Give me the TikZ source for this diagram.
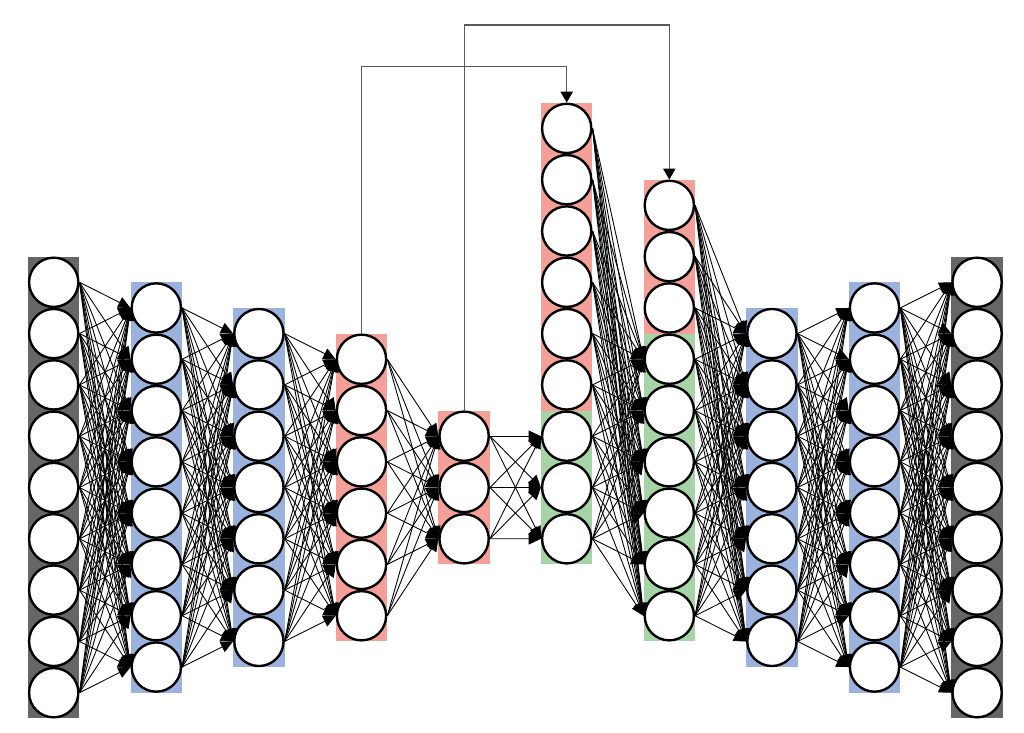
\documentclass[tikz,border=0pt]{standalone}
\usetikzlibrary{arrows.meta}
\definecolor{cgray}{RGB}{102,102,102}
\definecolor{cblue}{RGB}{155,178,222}
\definecolor{cred}{RGB}{244,160,152}
\definecolor{cgreen}{RGB}{166,212,166}
\begin{document}
\begin{tikzpicture}[x=0.02cm,y=-0.02cm,
  neuron/.style={circle,draw=black,fill=white,line width=1.35pt,minimum size=0.985cm,inner sep=0pt},
  conn/.style={draw=black,line width=0.5pt,-{Triangle[length=7pt,width=6.5pt]}},
  skipline/.style={draw=black!65,line width=0.6pt,-{Triangle[length=6.2pt,width=7pt,black]}},
  band/.style={draw=none}
]
\useasboundingbox (0,0) rectangle (1024,733);
% colored bands
\foreach \l/\a/\b/\c in {1/256.65/718.35/cgray, 2/282.3/692.7/cblue, 3/307.95/667.05/cblue,
  4/333.6/641.4/cred, 5/410.55/564.45/cred, 6/102.75/410.55/cred, 6/410.55/564.45/cgreen,
  7/179.7/333.6/cred, 7/333.6/641.4/cgreen, 8/307.95/667.05/cblue, 9/282.3/692.7/cblue,
  10/256.65/718.35/cgray}{
  \fill[band,\c] ({53.7+102.6*(\l-1)-25.65},\a) rectangle ({53.7+102.6*(\l-1)+25.65},\b);
}
% neurons
\foreach \l/\n/\t in {1/9/282.3, 2/8/307.95, 3/7/333.6, 4/6/359.25, 5/3/436.2,
  6/9/128.4, 7/9/205.35, 8/7/333.6, 9/8/307.95, 10/9/282.3}{
  \pgfmathsetmacro\xx{53.7+102.6*(\l-1)}
  \foreach \k in {1,...,\n}{
    \node[neuron] (n\l-\k) at (\xx,{\t+51.3*(\k-1)}) {};
  }
}
% connections
\foreach \a/\na/\b/\bs/\be in {1/9/2/1/8, 2/8/3/1/7, 3/7/4/1/6, 4/6/5/1/3, 5/3/6/7/9,
  6/9/7/4/9, 7/9/8/1/7, 8/7/9/1/8, 9/8/10/1/9}{
  \foreach \i in {1,...,\na}{
    \foreach \j in {\bs,...,\be}{
      \draw[conn] (n\a-\i.east) -- (n\b-\j.west);
    }
  }
}
% skip connections
\coordinate (topA) at (0,66.5);
\coordinate (topB) at (0,25);
\draw[skipline] (n4-1.north) -- (n4-1.north |- topA) -| (n6-1.north);
\draw[skipline] (n5-1.north) -- (n5-1.north |- topB) -| (n7-1.north);
\end{tikzpicture}
\end{document}
